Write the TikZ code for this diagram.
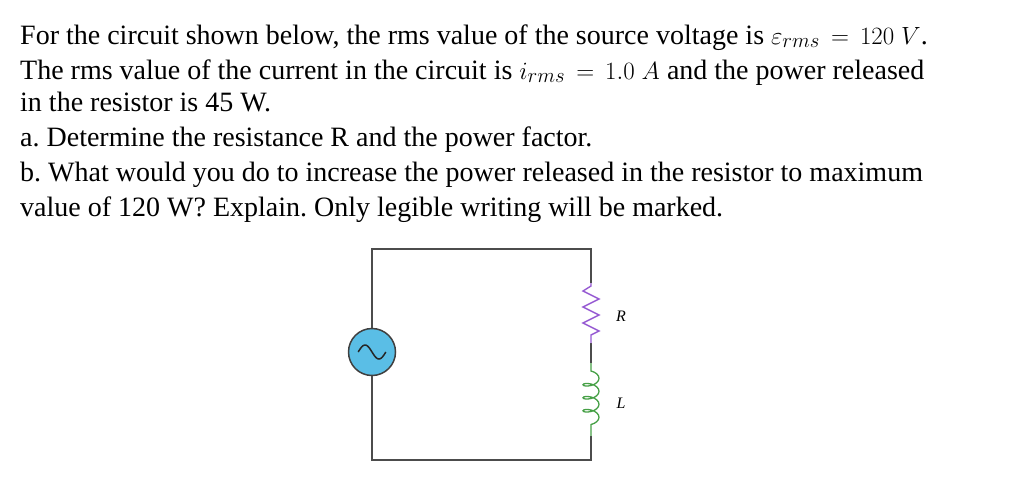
\documentclass[tikz,border=0pt]{standalone}
\usepackage{fontspec}
\setmainfont{Liberation Serif}
\usetikzlibrary{decorations.pathmorphing}
\definecolor{srcblue}{RGB}{90,190,230}
\definecolor{respurple}{RGB}{150,90,210}
\definecolor{indgreen}{RGB}{70,160,70}
\begin{document}
\frenchspacing
\begin{tikzpicture}[x=1pt,y=-1pt,
  txt/.style={anchor=base west,inner sep=0pt,font=\fontsize{28}{34}\selectfont},
  wire/.style={draw=black!70,line width=1.4pt},
  lbl/.style={font=\fontsize{16}{18}\selectfont\itshape}]
\useasboundingbox (0,0) rectangle (1024,501);
\node[txt] (l1) at (20,44) {For the circuit shown below, the rms value of the source voltage is $\varepsilon_{rms}\,=\,120\;V$.};
\node[txt] (l2) at (20,79) {The rms value of the current in the circuit is $i_{rms}\,=\,1.0\;A$ and the power released};
\node[txt] (l3) at (20,111) {in the resistor is 45 W.};
\node[txt] (l4) at (20,146) {a. Determine the resistance R and the power factor.};
\node[txt] (l5) at (20,181) {b. What would you do to increase the power released in the resistor to maximum};
\node[txt] (l6) at (20,216) {value of 120 W? Explain. Only legible writing will be marked.};
\coordinate (tl) at (372,249);
\coordinate (tr) at (591,249);
\coordinate (bl) at (372,460);
\coordinate (br) at (591,460);
\coordinate (r1) at (591,283);
\coordinate (r2) at (591,343);
\coordinate (i1) at (591,363);
\coordinate (i2) at (591,436);
\node[circle,draw=black!75,line width=1.5pt,fill=srcblue,minimum size=47pt,inner sep=0pt] (src) at (372,352) {};
\draw[line width=1.5pt,black!85,shift={(src.center)}] plot[domain=-180:180,samples=50,smooth] ({\x/13},{7*sin(\x)});
\draw[wire] (src.north) -- (tl) -- (tr) -- (r1);
\draw[wire] (src.south) -- (bl) -- (br) -- (i2);
\draw[wire] (r2) -- (i1);
\draw[respurple,line width=1.4pt] (r1) -- ++(0,3) -- ++(-8,5) -- ++(16,8) -- ++(-16,8) -- ++(16,8) -- ++(-16,8) -- ++(16,8) -- ++(-8,4) -- (r2);
\draw[indgreen,line width=1.3pt,decorate,decoration={coil,aspect=0.5,segment length=13pt,amplitude=8pt,pre length=8pt,post length=8pt}] (i1) -- (i2);
\node[lbl] (R) at (621,316) {R};
\node[lbl] (L) at (621,403) {L};
\end{tikzpicture}
\end{document}
